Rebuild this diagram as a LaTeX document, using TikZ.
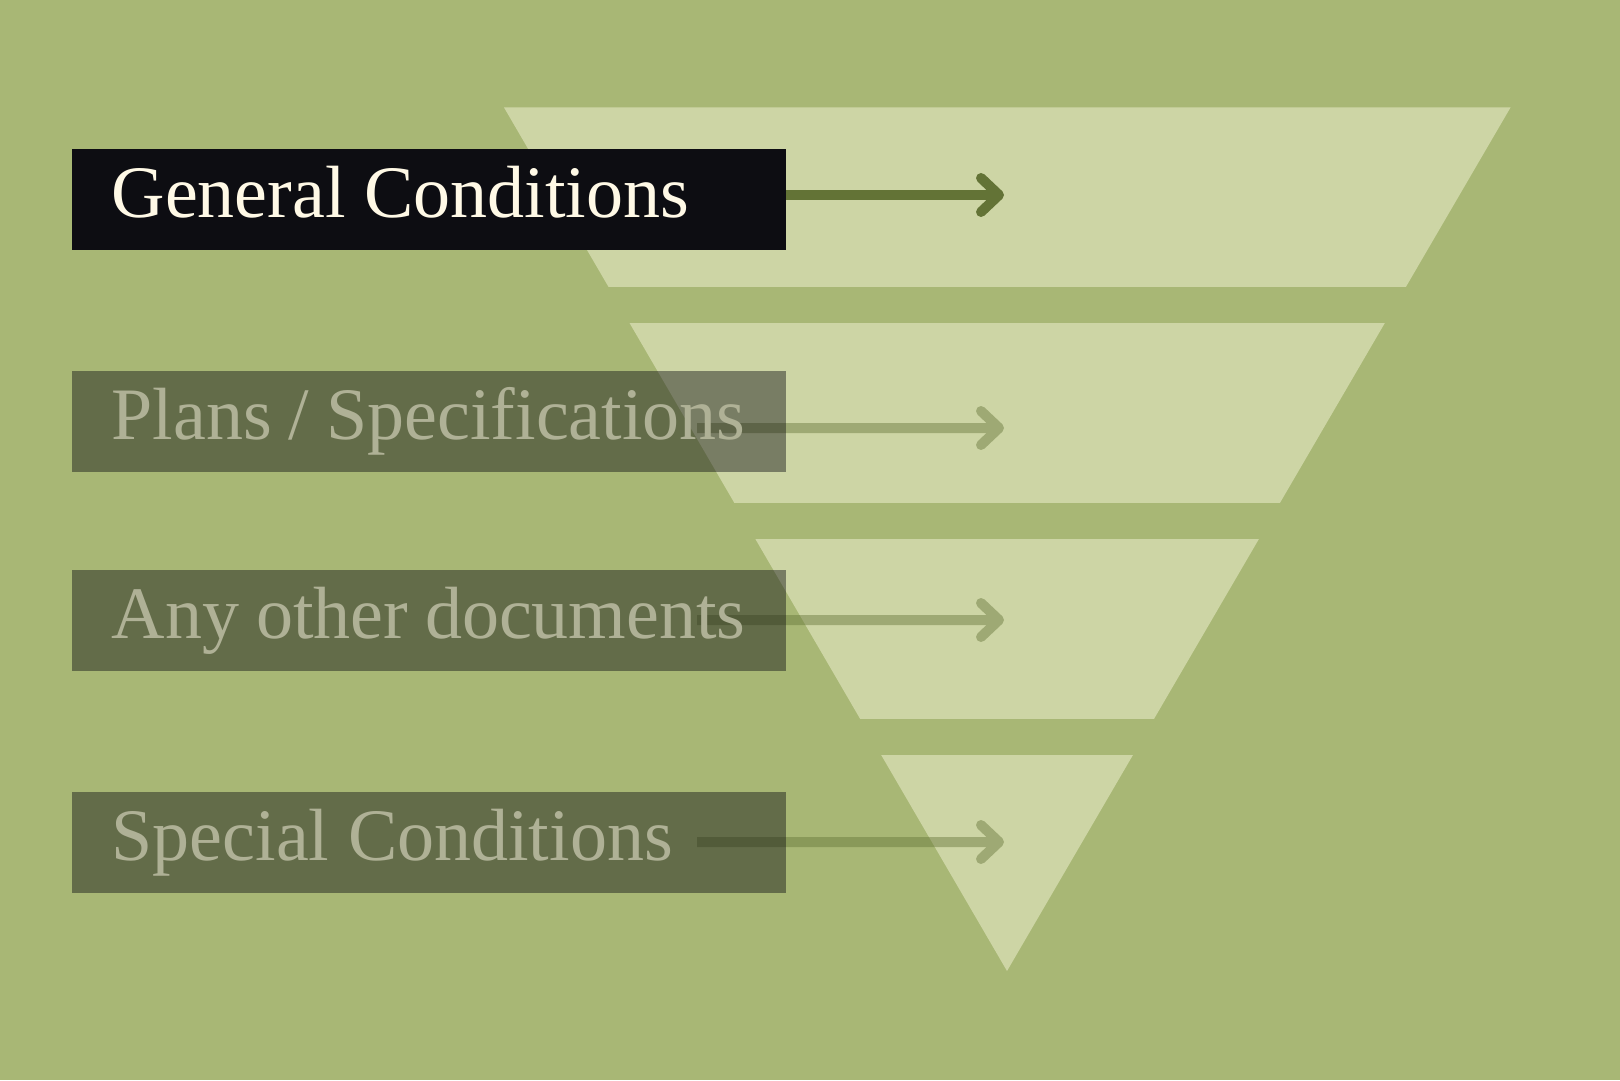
\documentclass[tikz,border=0pt]{standalone}
\usepackage{fontspec}
\setmainfont{Liberation Serif}
\usetikzlibrary{arrows.meta}
\definecolor{meadow}{HTML}{A8B775}
\definecolor{pale}{HTML}{CDD5A5}
\definecolor{ink}{HTML}{0D0D12}
\definecolor{cream}{HTML}{FFF9E6}
\definecolor{moss}{HTML}{637336}
\definecolor{faded}{HTML}{AFB196}
\pgfdeclarelayer{funnel}
\pgfdeclarelayer{links}
\pgfsetlayers{funnel,links,main}
\tikzset{
docbox/.style={
	anchor=west, fill=ink, fill opacity=0.44, text opacity=1, text=faded,
	minimum height=50.5pt, inner xsep=20pt, inner ysep=0pt,
	text height=26pt, text depth=8pt,
	execute at begin node={\hbox to 317pt\bgroup},
	execute at end node={\hfil\egroup},
	font=\fontsize{37}{40}\selectfont},
chosen/.style={fill opacity=1, text=cream},
flowarrow/.style={line width=5pt, moss,
	-{Straight Barb[length=9pt,width=17pt,round]}}
}

\begin{document}
\begin{tikzpicture}[x=0.5pt, y=-0.5pt]
	% the four documents
	\node[docbox, chosen] (general) at (71.3,199.4) {General Conditions};
	\node[docbox] (plans) at (71.3,421.5) {Plans / Specifications};
	\node[docbox] (other) at (71.3,620.8) {Any other documents};
	\node[docbox] (special) at (71.3,842.1) {Special Conditions};
	\coordinate (general-tip) at (1004,195);
	\coordinate (plans-tip) at (1004,428);
	\coordinate (other-tip) at (1004,620);
	\coordinate (special-tip) at (1004,842);
	\begin{pgfonlayer}{funnel}
		\fill[meadow] (0,0) rectangle (1620,1080);
		\begin{scope}
			\clip (504,107.5) -- (1510.5,107.5) -- (1007,971) -- cycle;
			\fill[pale] (0,107.5) rectangle (1620,287);
			\fill[pale] (0,323.4) rectangle (1620,503.2);
			\fill[pale] (0,539.3) rectangle (1620,719.1);
			\fill[pale] (0,755.3) rectangle (1620,971);
		\end{scope}
	\end{pgfonlayer}
	\begin{pgfonlayer}{links}
		\draw[flowarrow] ([xshift=-44.5pt]general.east |- general-tip) -- (general-tip);
		\begin{scope}[transparency group, opacity=0.44]
			\draw[flowarrow] ([xshift=-44.5pt]plans.east |- plans-tip) -- (plans-tip);
			\draw[flowarrow] ([xshift=-44.5pt]other.east |- other-tip) -- (other-tip);
			\draw[flowarrow] ([xshift=-44.5pt]special.east |- special-tip) -- (special-tip);
		\end{scope}
	\end{pgfonlayer}
\end{tikzpicture}
\end{document}
